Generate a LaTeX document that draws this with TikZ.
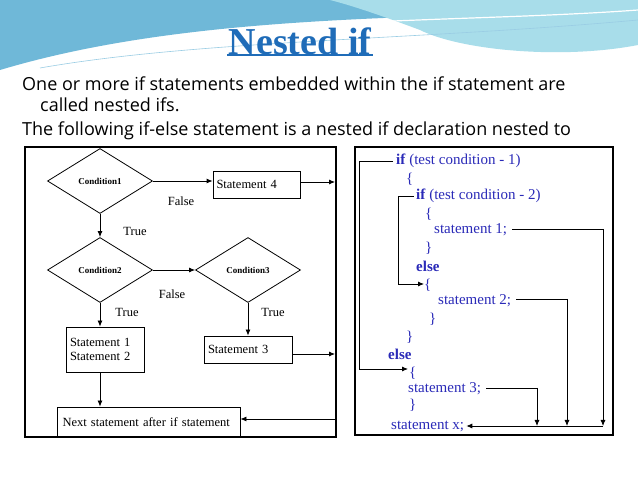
\documentclass[tikz,border=0pt]{standalone}
\usepackage{fontspec}
\setmainfont{Liberation Serif}
\newfontfamily\bodyfont{Open Sans}
\usetikzlibrary{shapes.geometric,arrows.meta}
\definecolor{codeblue}{HTML}{2A2AB8}
\definecolor{titleblue}{HTML}{1F6CB8}
\definecolor{swa}{HTML}{6FB8D8}
\definecolor{swb}{HTML}{A8DDEA}
\begin{document}
\begin{tikzpicture}[x=1pt,y=-1pt,
  box/.style={draw,line width=0.8pt,inner sep=0pt},
  dia/.style={draw,line width=0.8pt,diamond,aspect=1.6,minimum width=105pt,minimum height=65pt,inner sep=0pt,font=\bfseries\fontsize{9}{10}\selectfont},
  lbl/.style={font=\fontsize{12.5}{14}\selectfont},
  code/.style={text=codeblue,anchor=west,inner sep=0pt,font=\fontsize{15}{17}\selectfont},
  arr/.style={-{Latex[length=6pt,width=5pt]},line width=0.8pt},
  ln/.style={line width=0.8pt},
  body/.style={anchor=west,font=\bodyfont\fontsize{18}{20}\selectfont,inner sep=0pt}]
\useasboundingbox (0,0) rectangle (638,478);
\fill[white] (0,0) rectangle (638,478);
% swoosh
\fill[swa] (0,0) -- (638,0) -- (638,8) .. controls (450,20) and (200,10) .. (0,70) -- cycle;
\fill[swb] (330,0) -- (638,0) -- (638,45) .. controls (560,60) and (460,50) .. (420,30) .. controls (380,15) and (350,5) .. (330,0) -- cycle;
\draw[white,line width=1.2pt] (0,72) .. controls (200,14) and (450,24) .. (638,10);
\draw[swa!70,line width=0.6pt] (40,68) .. controls (200,40) and (420,40) .. (638,20);
% title
\node[font=\bfseries\fontsize{38}{42}\selectfont,text=titleblue] (title) at (300,41) {Nested if};
\draw[titleblue,line width=1.5pt] (title.south west) ++(2,-3) -- ([xshift=-2pt,yshift=3pt]title.south east);
% body
\node[body] (t1) at (22,84) {One or more if statements embedded within the if statement are};
\node[body] (t2) at (40,105) {called nested ifs.};
\node[body] (t3) at (22,131) {The following if-else statement is a nested if declaration nested to};
% left panel
\draw[line width=1.6pt,fill=white] (25,147) rectangle (336,437);
\node[dia] (c1) at (100,181) {Condition1};
\node[box,minimum width=87pt,minimum height=27pt,lbl,text width=80pt,align=left] (s4) at (256.5,184.5) {Statement 4};
\node[dia] (c2) at (100,270) {Condition2};
\node[dia] (c3) at (248,270) {Condition3};
\node[box,minimum width=78pt,minimum height=45pt,lbl,text width=70pt,align=left] (s12) at (105,349.5) {Statement 1\\Statement 2\\[6pt]};
\node[box,minimum width=88pt,minimum height=27pt,lbl,text width=80pt,align=left] (s3) at (248,349.5) {Statement 3};
\node[box,minimum width=183pt,minimum height=30pt,lbl,text width=172pt,align=left] (nx) at (148.5,422) {Next statement after if statement};
\coordinate (r1) at (335,182);
\coordinate (r2) at (335,354);
\coordinate (r3) at (335,419);
\draw[arr] (c1.east) -- (s4.west |- c1.east);
\draw[arr] (s4.east |- r1) -- (r1);
\draw[arr] (c1.south) -- (c2.north);
\draw[arr] (c2.east) -- (c3.west);
\draw[arr] (c2.south) -- (s12.north -| c2.south);
\draw[arr] (c3.south) -- (s3.north);
\draw[arr] (s3.east |- r2) -- (r2);
\draw[arr] (s12.south -| c2.south) -- (nx.north -| c2.south);
\draw[arr] (r3) -- (nx.east |- r3);
\node[lbl] (f1) at (181,201) {False};
\node[lbl] (tr1) at (135,231) {True};
\node[lbl] (f2) at (172,294) {False};
\node[lbl] (tr2) at (127,312) {True};
\node[lbl] (tr3) at (273,312) {True};
% right panel
\draw[line width=1.8pt,fill=white] (355,147) rectangle (613,435);
\node[code] (l1) at (396,161) {\textbf{if} (test condition - 1)};
\node[code] (l2) at (406,179) {\{};
\node[code] (l3) at (416,196) {\textbf{if} (test condition - 2)};
\node[code] (l4) at (425,214) {\{};
\node[code] (l5) at (434,230) {statement 1;};
\node[code] (l6) at (425,248) {\}};
\node[code] (l7) at (416,266) {\textbf{else}};
\node[code] (l8) at (424,285) {\{};
\node[code] (l9) at (438,301) {statement 2;};
\node[code] (l10) at (429,319) {\}};
\node[code] (l11) at (406,337) {\}};
\node[code] (l12) at (388,354) {\textbf{else}};
\node[code] (l13) at (409,373) {\{};
\node[code] (l14) at (408,389) {statement 3;};
\node[code] (l15) at (409,405) {\}};
\node[code] (l16) at (391,426) {statement x;};
\coordinate (b1) at (603,426);
\coordinate (b2) at (567,426);
\coordinate (b3) at (537,426);
\draw[arr] ([xshift=-3pt]l1.west) -- (359,161) -- (359,369) -- ([xshift=-1pt]l13.west |- 0,369);
\draw[arr] ([xshift=-2pt]l3.west) -- (398,196) -- (398,284) -- ([xshift=0pt]l8.west |- 0,284);
\draw[ln] ([xshift=5pt]l5.east |- 0,229) -- (603,229);
\draw[arr] (603,229) -- (b1);
\draw[ln] ([xshift=5pt]l9.east |- 0,299) -- (567,299);
\draw[arr] (567,299) -- (b2);
\draw[ln] ([xshift=5pt]l14.east |- 0,388) -- (537,388);
\draw[arr] (537,388) -- (b3);
\draw[arr] (b1) -- ([xshift=2pt]l16.east);
\end{tikzpicture}
\end{document}
